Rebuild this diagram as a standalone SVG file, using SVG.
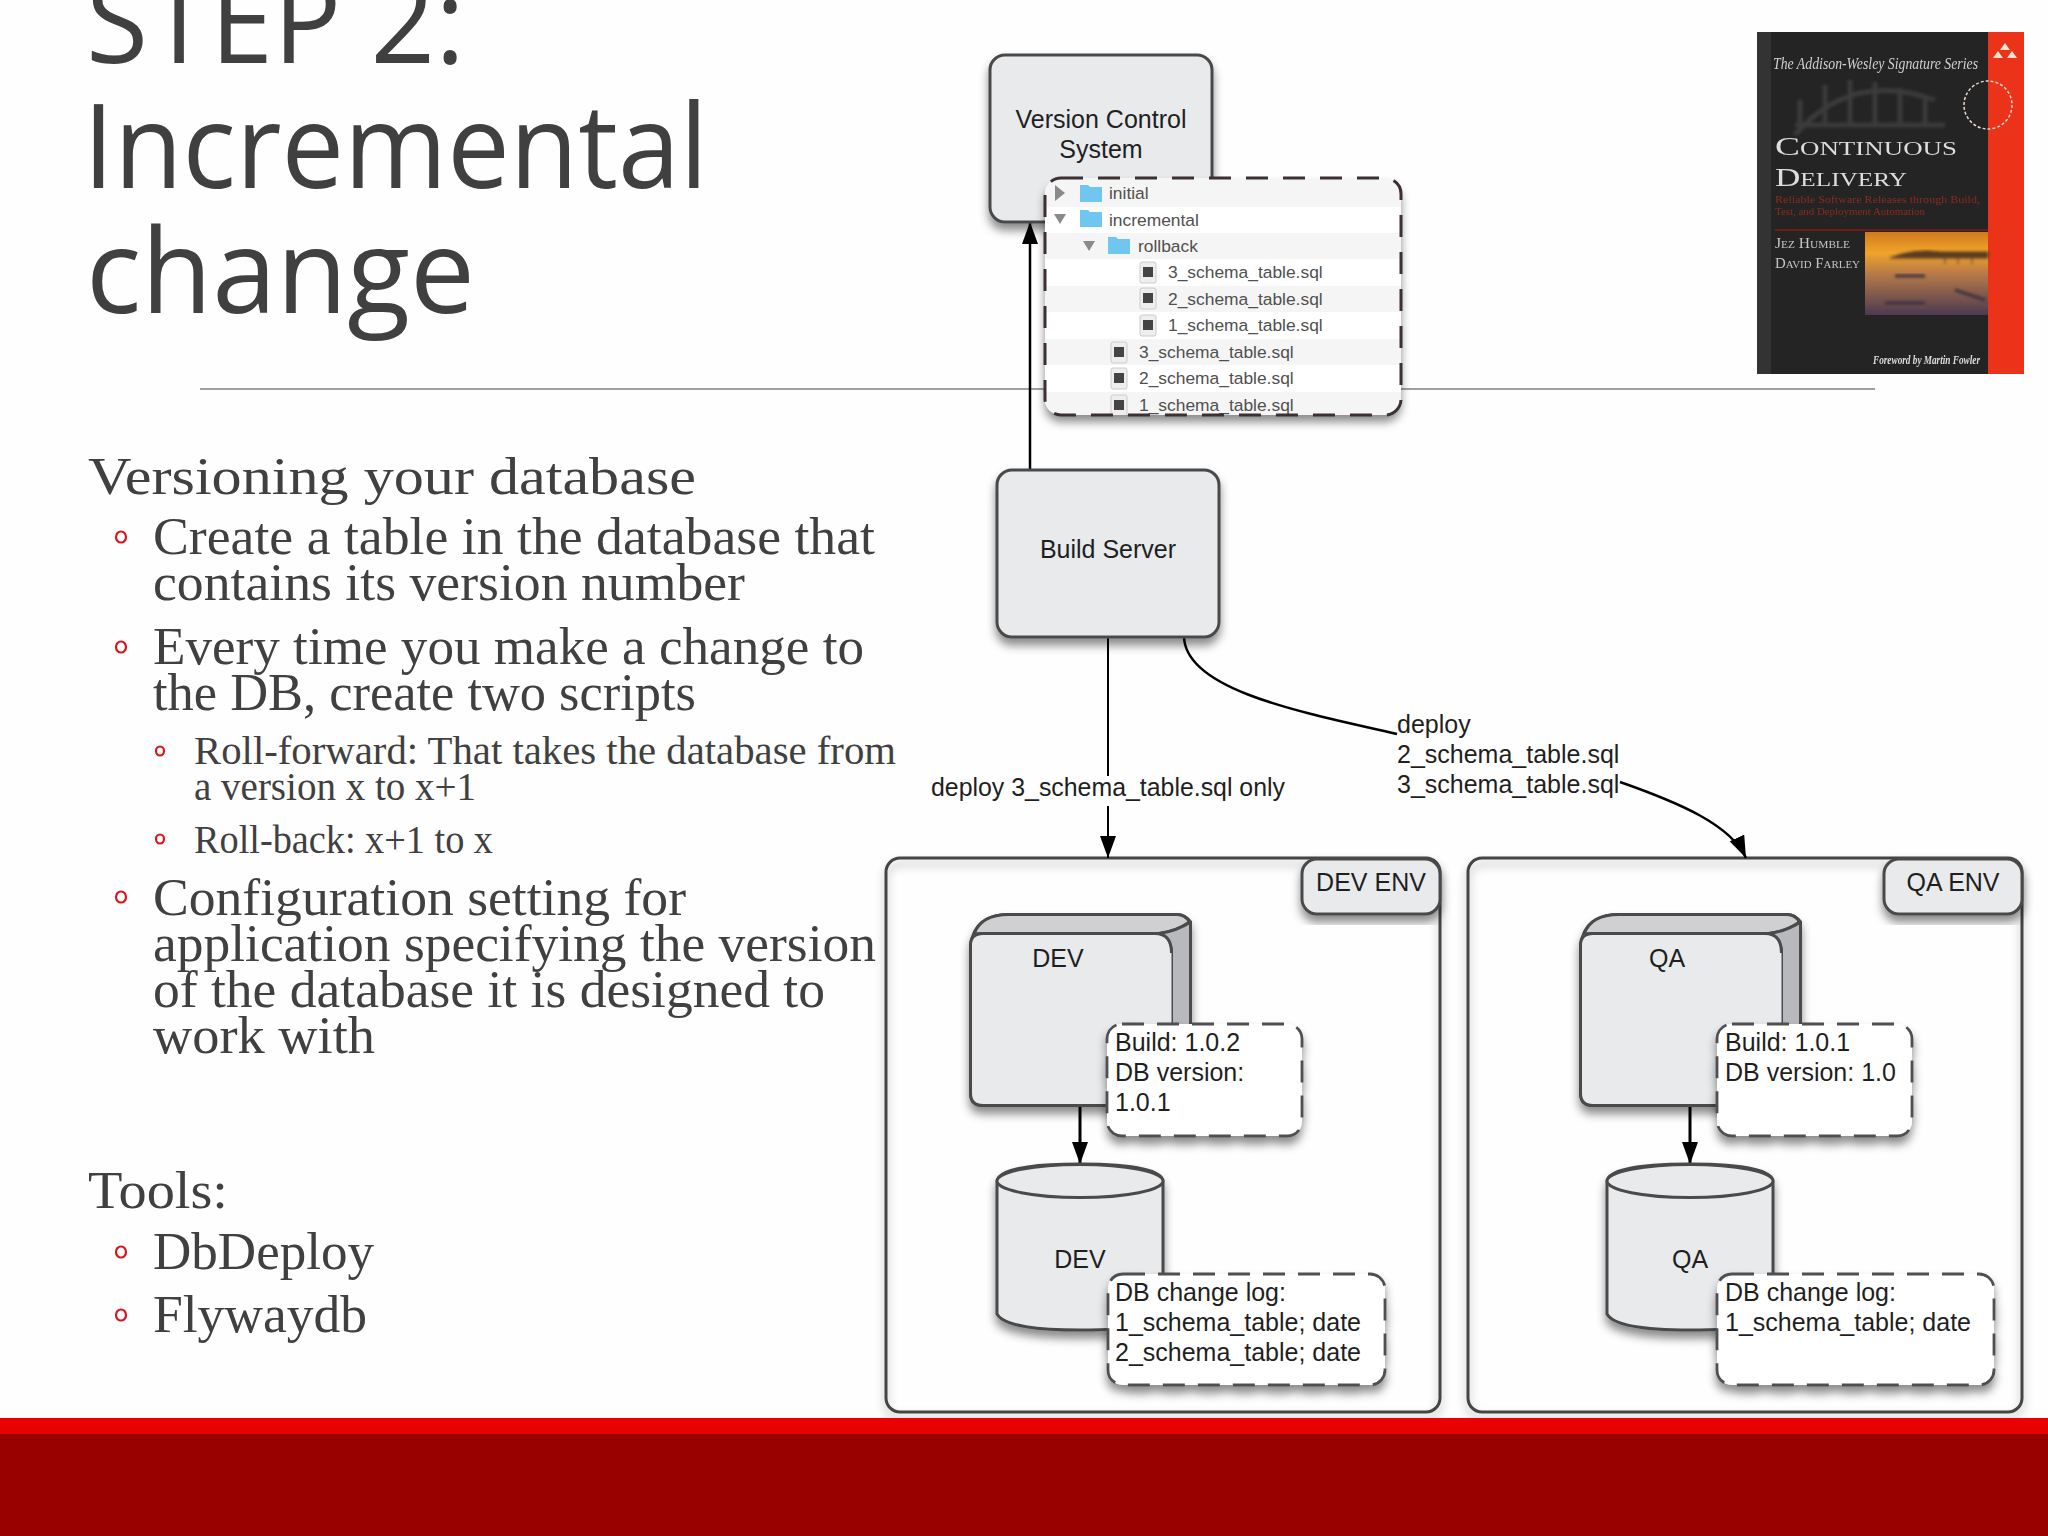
<svg xmlns="http://www.w3.org/2000/svg" width="2048" height="1536" viewBox="0 0 2048 1536">
<style>
.title{font-family:"Open Sans","Noto Sans",sans-serif;font-size:118px;fill:#404040}
.b0{font-family:"Liberation Serif",serif;font-size:53px;fill:#404040}
.b1{font-family:"Liberation Serif",serif;font-size:53px;fill:#404040}
.b2{font-family:"Liberation Serif",serif;font-size:40px;fill:#404040}
.bul{fill:none;stroke:#d9141c;stroke-width:2.2}
.t{font-family:"Liberation Sans",Arial,sans-serif;font-size:25px;fill:#1f1f1f}
.tc{text-anchor:middle}
.box{fill:#e8eaec;stroke:#4a4a4a;stroke-width:3;filter:url(#sh)}
.env{fill:none;stroke:#444;stroke-width:3;filter:url(#sh2)}
.note{fill:#fff;stroke:#505050;stroke-width:2.8;stroke-dasharray:22 13;filter:url(#sh)}
.ln{fill:none;stroke:#000;stroke-width:2.5}
.tree{font-family:"Liberation Sans",Arial,sans-serif;font-size:17.4px;fill:#505050}
.folder{fill:#6fc6ee}
.tri{fill:#8a8a8a}
.bk{font-family:"Liberation Serif",serif;filter:url(#bl)}
</style>
<defs>
<filter id="sh" x="-15%" y="-15%" width="130%" height="135%"><feDropShadow dx="0" dy="7" stdDeviation="5" flood-color="#000" flood-opacity=".45"/></filter>
<filter id="sh2" x="-5%" y="-5%" width="110%" height="110%"><feDropShadow dx="0" dy="6" stdDeviation="5" flood-color="#000" flood-opacity=".3"/></filter>
<filter id="bl"><feGaussianBlur stdDeviation=".6"/></filter>
<filter id="bl2"><feGaussianBlur stdDeviation="1.6"/></filter>
<marker id="ah" markerUnits="userSpaceOnUse" markerWidth="24" markerHeight="18" refX="22" refY="8" orient="auto"><path d="M0 0L22 8L0 16Z" fill="#000"/></marker>
<clipPath id="treeclip"><rect x="1045" y="178" width="356" height="237" rx="16"/></clipPath>
<linearGradient id="sky" x1="0" y1="0" x2="0" y2="1"><stop offset="0" stop-color="#d07a1c"/><stop offset=".25" stop-color="#f0a42a"/><stop offset=".5" stop-color="#b87a48"/><stop offset="1" stop-color="#4c3a50"/></linearGradient>
<g id="file"><rect x="0" y="0" width="16" height="21" rx="2" fill="#eee" stroke="#ccc"/><rect x="3" y="5" width="10" height="10" fill="#444"/></g>
<g id="server">
<path class="box" d="M1.500 32Q6 1.500 40 1.500H208Q216 1.500 221.500 9V180Q221.500 192.500 208 192.500H14Q1.500 192.500 1.500 180Z"/>
<path d="M5 21Q12 1.500 40 1.500H208Q216 1.500 220.500 9Q206 19 190 20.500H14Z" fill="#d0d0d3" stroke="#4a4a4a" stroke-width="3" stroke-linejoin="round"/>
<path d="M221.500 9V190H202.500V40Q203 28 190 20.500Q208 18 221.500 9Z" fill="#b8b9bc" stroke="#4a4a4a" stroke-width="3" stroke-linejoin="round"/>
<path d="M1.500 32Q1.500 20.500 14 20.500H186Q202.500 20.500 202.500 40V192.500H14Q1.500 192.500 1.500 180Z" fill="#e8eaec"/>
<path d="M1.500 32Q1.500 20.500 14 20.500H186Q202.500 20.500 202.500 40M202.500 192.500H14Q1.500 192.500 1.500 180V32" fill="none" stroke="#4a4a4a" stroke-width="3"/>
</g>
<g id="cyl">
<path class="box" d="M1 18V150Q10 166 84 166Q167 166 167 150V18Q167 0 84 0Q1 0 1 18Z"/>
<ellipse cx="84" cy="17" rx="83" ry="16.500" fill="#e8eaec" stroke="#4a4a4a" stroke-width="3"/>
</g>
</defs>
<rect width="2048" height="1536" fill="#fefefe"/>
<line id="rule" x1="200" y1="389" x2="1875" y2="389" stroke="#a0a0a0" stroke-width="1.800"/>

<g id="title">
<text class="title" x="86" y="63" textLength="379" lengthAdjust="spacingAndGlyphs">STEP 2:</text>
<text class="title" x="83" y="188" textLength="625" lengthAdjust="spacingAndGlyphs">Incremental</text>
<text class="title" x="86" y="313" textLength="389" lengthAdjust="spacingAndGlyphs">change</text>
</g>
<g id="body">
<text class="b0" x="88" y="494" textLength="608" lengthAdjust="spacingAndGlyphs">Versioning your database</text>
<text class="b1" x="153" y="554" textLength="722" lengthAdjust="spacingAndGlyphs">Create a table in the database that</text>
<text class="b1" x="153" y="600" textLength="592" lengthAdjust="spacingAndGlyphs">contains its version number</text>
<text class="b1" x="153" y="664" textLength="711" lengthAdjust="spacingAndGlyphs">Every time you make a change to</text>
<text class="b1" x="153" y="710" textLength="543" lengthAdjust="spacingAndGlyphs">the DB, create two scripts</text>
<text class="b2" x="194" y="764" textLength="702" lengthAdjust="spacingAndGlyphs">Roll-forward: That takes the database from</text>
<text class="b2" x="194" y="800" textLength="282" lengthAdjust="spacingAndGlyphs">a version x to x+1</text>
<text class="b2" x="194" y="853" textLength="299" lengthAdjust="spacingAndGlyphs">Roll-back: x+1 to x</text>
<text class="b1" x="153" y="915" textLength="533" lengthAdjust="spacingAndGlyphs">Configuration setting for</text>
<text class="b1" x="153" y="961" textLength="723" lengthAdjust="spacingAndGlyphs">application specifying the version</text>
<text class="b1" x="153" y="1007" textLength="672" lengthAdjust="spacingAndGlyphs">of the database it is designed to</text>
<text class="b1" x="153" y="1053" textLength="222" lengthAdjust="spacingAndGlyphs">work with</text>
<text class="b0" x="88" y="1208" textLength="140" lengthAdjust="spacingAndGlyphs">Tools:</text>
<text class="b1" x="153" y="1269" textLength="221" lengthAdjust="spacingAndGlyphs">DbDeploy</text>
<text class="b1" x="153" y="1332" textLength="214" lengthAdjust="spacingAndGlyphs">Flywaydb</text>
<ellipse class="bul" cx="121" cy="537" rx="5" ry="5.500"/>
<ellipse class="bul" cx="121" cy="647" rx="5" ry="5.500"/>
<ellipse class="bul" cx="160" cy="751" rx="4" ry="4.500"/>
<ellipse class="bul" cx="160" cy="839" rx="4" ry="4.500"/>
<ellipse class="bul" cx="121" cy="897" rx="5" ry="5.500"/>
<ellipse class="bul" cx="121" cy="1252" rx="5" ry="5.500"/>
<ellipse class="bul" cx="121" cy="1315" rx="5" ry="5.500"/>
</g>

<g id="book">
<rect x="1757" y="32" width="231" height="342" fill="#242424"/>
<rect x="1757" y="32" width="14" height="342" fill="#333"/>
<rect x="1988" y="32" width="36" height="342" fill="#ea3318"/>
<path d="M1795 135Q1850 70 1935 100M1800 125V100M1825 125V85M1850 125V80M1875 125V82M1900 125V88M1925 125V96M1795 125H1945" fill="none" stroke="#3a3a3a" stroke-width="5" filter="url(#bl2)"/>
<rect x="1775" y="229" width="213" height="2" fill="#6e1d14"/>
<rect x="1865" y="232" width="123" height="83" fill="url(#sky)"/>
<path d="M1890 258Q1915 248 1940 252H1988V258H1890ZM1945 252V264M1958 252V264M1972 252V264" fill="#5a3a20" stroke="#5a3a20" filter="url(#bl2)"/>
<path d="M1895 276H1925M1885 303H1925M1955 290L1985 300" stroke="#3a3040" stroke-width="3" fill="none" filter="url(#bl2)"/>
<circle cx="1988" cy="105" r="24" fill="none" stroke="#e9d8c8" stroke-width="1.500" stroke-dasharray="3 2" filter="url(#bl)"/>
<path d="M2005 43l5 7h-10zM1998 51l5 7h-10zM2012 51l5 7h-10z" fill="#f4e4d4" filter="url(#bl)"/>
<text class="bk" x="1773" y="69" font-size="16" font-style="italic" fill="#cfcfcf" textLength="205" lengthAdjust="spacingAndGlyphs">The Addison-Wesley Signature Series</text>
<text class="bk" x="1775" y="155" font-size="25" fill="#ddd" style="font-variant:small-caps" textLength="182" lengthAdjust="spacingAndGlyphs">Continuous</text>
<text class="bk" x="1775" y="186" font-size="25" fill="#ddd" style="font-variant:small-caps" textLength="132" lengthAdjust="spacingAndGlyphs">Delivery</text>
<text class="bk" x="1775" y="203" font-size="10" fill="#8a2a1e" textLength="205" lengthAdjust="spacingAndGlyphs">Reliable Software Releases through Build,</text>
<text class="bk" x="1775" y="215" font-size="10" fill="#8a2a1e" textLength="150" lengthAdjust="spacingAndGlyphs">Test, and Deployment Automation</text>
<text class="bk" x="1775" y="248" font-size="15" fill="#c4c4c4" style="font-variant:small-caps" textLength="75" lengthAdjust="spacingAndGlyphs">Jez Humble</text>
<text class="bk" x="1775" y="268" font-size="15" fill="#c4c4c4" style="font-variant:small-caps" textLength="85" lengthAdjust="spacingAndGlyphs">David Farley</text>
<text class="bk" x="1873" y="364" font-size="12" font-style="italic" font-weight="bold" fill="#ddd" textLength="107" lengthAdjust="spacingAndGlyphs">Foreword by Martin Fowler</text>
</g>

<g id="env-dev"><rect class="env" x="886" y="858" width="554" height="554" rx="14"/></g>
<g id="env-qa"><rect class="env" x="1468" y="858" width="554" height="554" rx="14"/></g>

<g id="connectors">
<path class="ln" d="M1030 470V222" marker-end="url(#ah)"/>
<path class="ln" style="stroke-width:2" d="M1108 637V776"/>
<path class="ln" style="stroke-width:2" d="M1108 806V858" marker-end="url(#ah)"/>
<path class="ln" d="M1184 637C1186 690 1300 712 1397 734"/>
<path class="ln" d="M1620 782C1680 803 1731 825 1746 858" marker-end="url(#ah)"/>
<path class="ln" style="stroke-width:3" d="M1080 1107V1164" marker-end="url(#ah)"/>
<path class="ln" style="stroke-width:3" d="M1690 1107V1164" marker-end="url(#ah)"/>
</g>

<g id="vcs">
<rect class="box" x="990" y="55" width="222" height="167" rx="15"/>
<text class="t tc" x="1101" y="128">Version Control</text>
<text class="t tc" x="1101" y="158">System</text>
</g>
<g id="tree">
<rect x="1045" y="178" width="356" height="237" rx="16" fill="#fff" filter="url(#sh)"/>
<g clip-path="url(#treeclip)">
<rect x="1045" y="178" width="356" height="29" fill="#f5f5f5"/>
<rect x="1045" y="233" width="356" height="26" fill="#f5f5f5"/>
<rect x="1045" y="286" width="356" height="26" fill="#f5f5f5"/>
<rect x="1045" y="339" width="356" height="26" fill="#f5f5f5"/>
<rect x="1045" y="392" width="356" height="26" fill="#f5f5f5"/>
<path class="tri" d="M1055 185L1065 193L1055 201Z"/>
<path class="tri" d="M1054 214H1066L1060 224Z"/>
<path class="tri" d="M1083 241H1095L1089 251Z"/>
<path class="folder" d="M1080 185h8l2 2h12v15h-22z"/>
<path class="folder" d="M1080 210h8l2 2h12v15h-22z"/>
<path class="folder" d="M1108 237h8l2 2h12v15h-22z"/>
<use href="#file" x="1140" y="262"/>
<use href="#file" x="1140" y="288"/>
<use href="#file" x="1140" y="315"/>
<use href="#file" x="1111" y="342"/>
<use href="#file" x="1111" y="368"/>
<use href="#file" x="1111" y="395"/>
<text class="tree" x="1109" y="199">initial</text>
<text class="tree" x="1109" y="226">incremental</text>
<text class="tree" x="1138" y="252">rollback</text>
<text class="tree" x="1168" y="278">3_schema_table.sql</text>
<text class="tree" x="1168" y="305">2_schema_table.sql</text>
<text class="tree" x="1168" y="331">1_schema_table.sql</text>
<text class="tree" x="1139" y="358">3_schema_table.sql</text>
<text class="tree" x="1139" y="384">2_schema_table.sql</text>
<text class="tree" x="1139" y="411">1_schema_table.sql</text>
</g>
<rect x="1045" y="178" width="356" height="237" rx="16" fill="none" stroke="#3c3030" stroke-width="3" stroke-dasharray="22 15"/>
</g>
<g id="build">
<rect class="box" x="997" y="470" width="222" height="167" rx="15"/>
<text class="t tc" x="1108" y="558">Build Server</text>
</g>

<g id="labels">
<text class="t" x="931" y="796" textLength="354" lengthAdjust="spacingAndGlyphs">deploy 3_schema_table.sql only</text>
<text class="t" x="1397" y="733">deploy</text>
<text class="t" x="1397" y="763">2_schema_table.sql</text>
<text class="t" x="1397" y="793">3_schema_table.sql</text>
</g>

<g id="label-dev"><rect class="box" x="1302" y="859" width="138" height="55" rx="15"/><text class="t tc" x="1371" y="891">DEV ENV</text></g>
<g id="label-qa"><rect class="box" x="1884" y="859" width="138" height="55" rx="15"/><text class="t tc" x="1953" y="891">QA ENV</text></g>

<g id="server-dev"><use href="#server" x="969" y="913"/><text class="t tc" x="1058" y="967">DEV</text></g>
<g id="db-dev"><use href="#cyl" x="996" y="1164"/><text class="t tc" x="1080" y="1268">DEV</text></g>
<g id="note-dev-server"><rect class="note" x="1107" y="1024" width="195" height="112" rx="15"/>
<text class="t" x="1115" y="1051">Build: 1.0.2</text><text class="t" x="1115" y="1081">DB version:</text><text class="t" x="1115" y="1111">1.0.1</text></g>
<g id="note-dev-db"><rect class="note" x="1108" y="1274" width="277" height="111" rx="15"/>
<text class="t" x="1115" y="1301">DB change log:</text><text class="t" x="1115" y="1331">1_schema_table; date</text><text class="t" x="1115" y="1361">2_schema_table; date</text></g>

<g id="server-qa"><use href="#server" x="1579" y="913"/><text class="t tc" x="1667" y="967">QA</text></g>
<g id="db-qa"><use href="#cyl" x="1606" y="1164"/><text class="t tc" x="1690" y="1268">QA</text></g>
<g id="note-qa-server"><rect class="note" x="1717" y="1024" width="195" height="112" rx="15"/>
<text class="t" x="1725" y="1051">Build: 1.0.1</text><text class="t" x="1725" y="1081">DB version: 1.0</text></g>
<g id="note-qa-db"><rect class="note" x="1717" y="1274" width="277" height="111" rx="15"/>
<text class="t" x="1725" y="1301">DB change log:</text><text class="t" x="1725" y="1331">1_schema_table; date</text></g>

<g id="footer">
<rect x="0" y="1418" width="2048" height="16" fill="#e90000"/>
<rect x="0" y="1434" width="2048" height="102" fill="#990000"/>
</g>
</svg>
